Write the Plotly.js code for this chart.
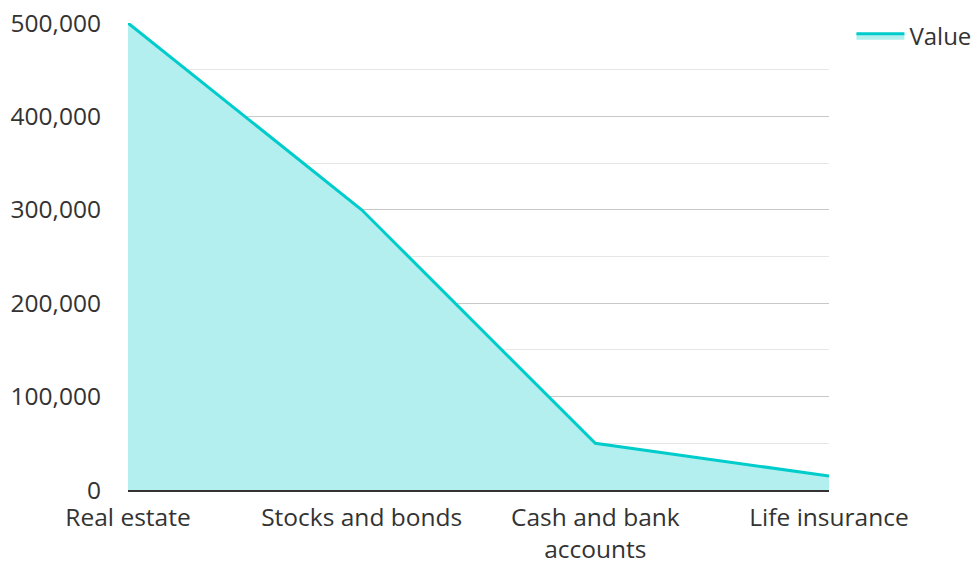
<!DOCTYPE html>
<html>
<head>
<meta charset="utf-8">
<script src="https://cdn.plot.ly/plotly-3.0.1.min.js"></script>
<style>html,body{margin:0;padding:0;background:#fff;}#chart{width:979px;height:562px;}</style>
</head>
<body>
<div id="chart"></div>
<script>
const categories = ["Real estate", "Stocks and bonds", "Cash and bank<br>accounts", "Life insurance"];
const values = [500000, 300000, 50000, 15000];
const seriesName = "Value";

const trace = {
  x: categories,
  y: values,
  type: "scatter",
  mode: "lines",
  name: seriesName,
  fill: "tozeroy",
  fillcolor: "rgb(178,239,238)",
  line: {color: "rgb(0,204,204)", width: 3},
  hoverinfo: "x+y"
};

const layout = {
  width: 979,
  height: 562,
  margin: {l: 128, r: 150, t: 23, b: 72, autoexpand: false},
  paper_bgcolor: "#fff",
  plot_bgcolor: "#fff",
  font: {family: "'Open Sans', sans-serif", size: 24.5, color: "#333"},
  showlegend: true,
  legend: {x: 1.032, y: 1.02, xanchor: "left", yanchor: "top", itemwidth: 48, font: {size: 24, color: "#333"}, bgcolor: "rgba(0,0,0,0)"},
  xaxis: {
    type: "category",
    range: [0, 3],
    showgrid: false,
    showline: true,
    linecolor: "#333",
    linewidth: 2,
    ticks: "",
    ticklabelstandoff: 5,
    tickfont: {size: 24.5, color: "#333"},
    zeroline: false,
    fixedrange: true
  },
  yaxis: {
    range: [0, 500000],
    dtick: 100000,
    tickformat: ",",
    showgrid: true,
    gridcolor: "#c8c8c8",
    gridwidth: 1,
    zeroline: false,
    showline: false,
    ticks: "",
    ticklabelstandoff: 26,
    tickfont: {size: 24.5, color: "#333"},
    minor: {dtick: 50000, showgrid: true, gridcolor: "#e6e6e6", gridwidth: 1},
    fixedrange: true
  }
};

Plotly.newPlot("chart", [trace], layout, {displayModeBar: false, staticPlot: true});
</script>
</body>
</html>
